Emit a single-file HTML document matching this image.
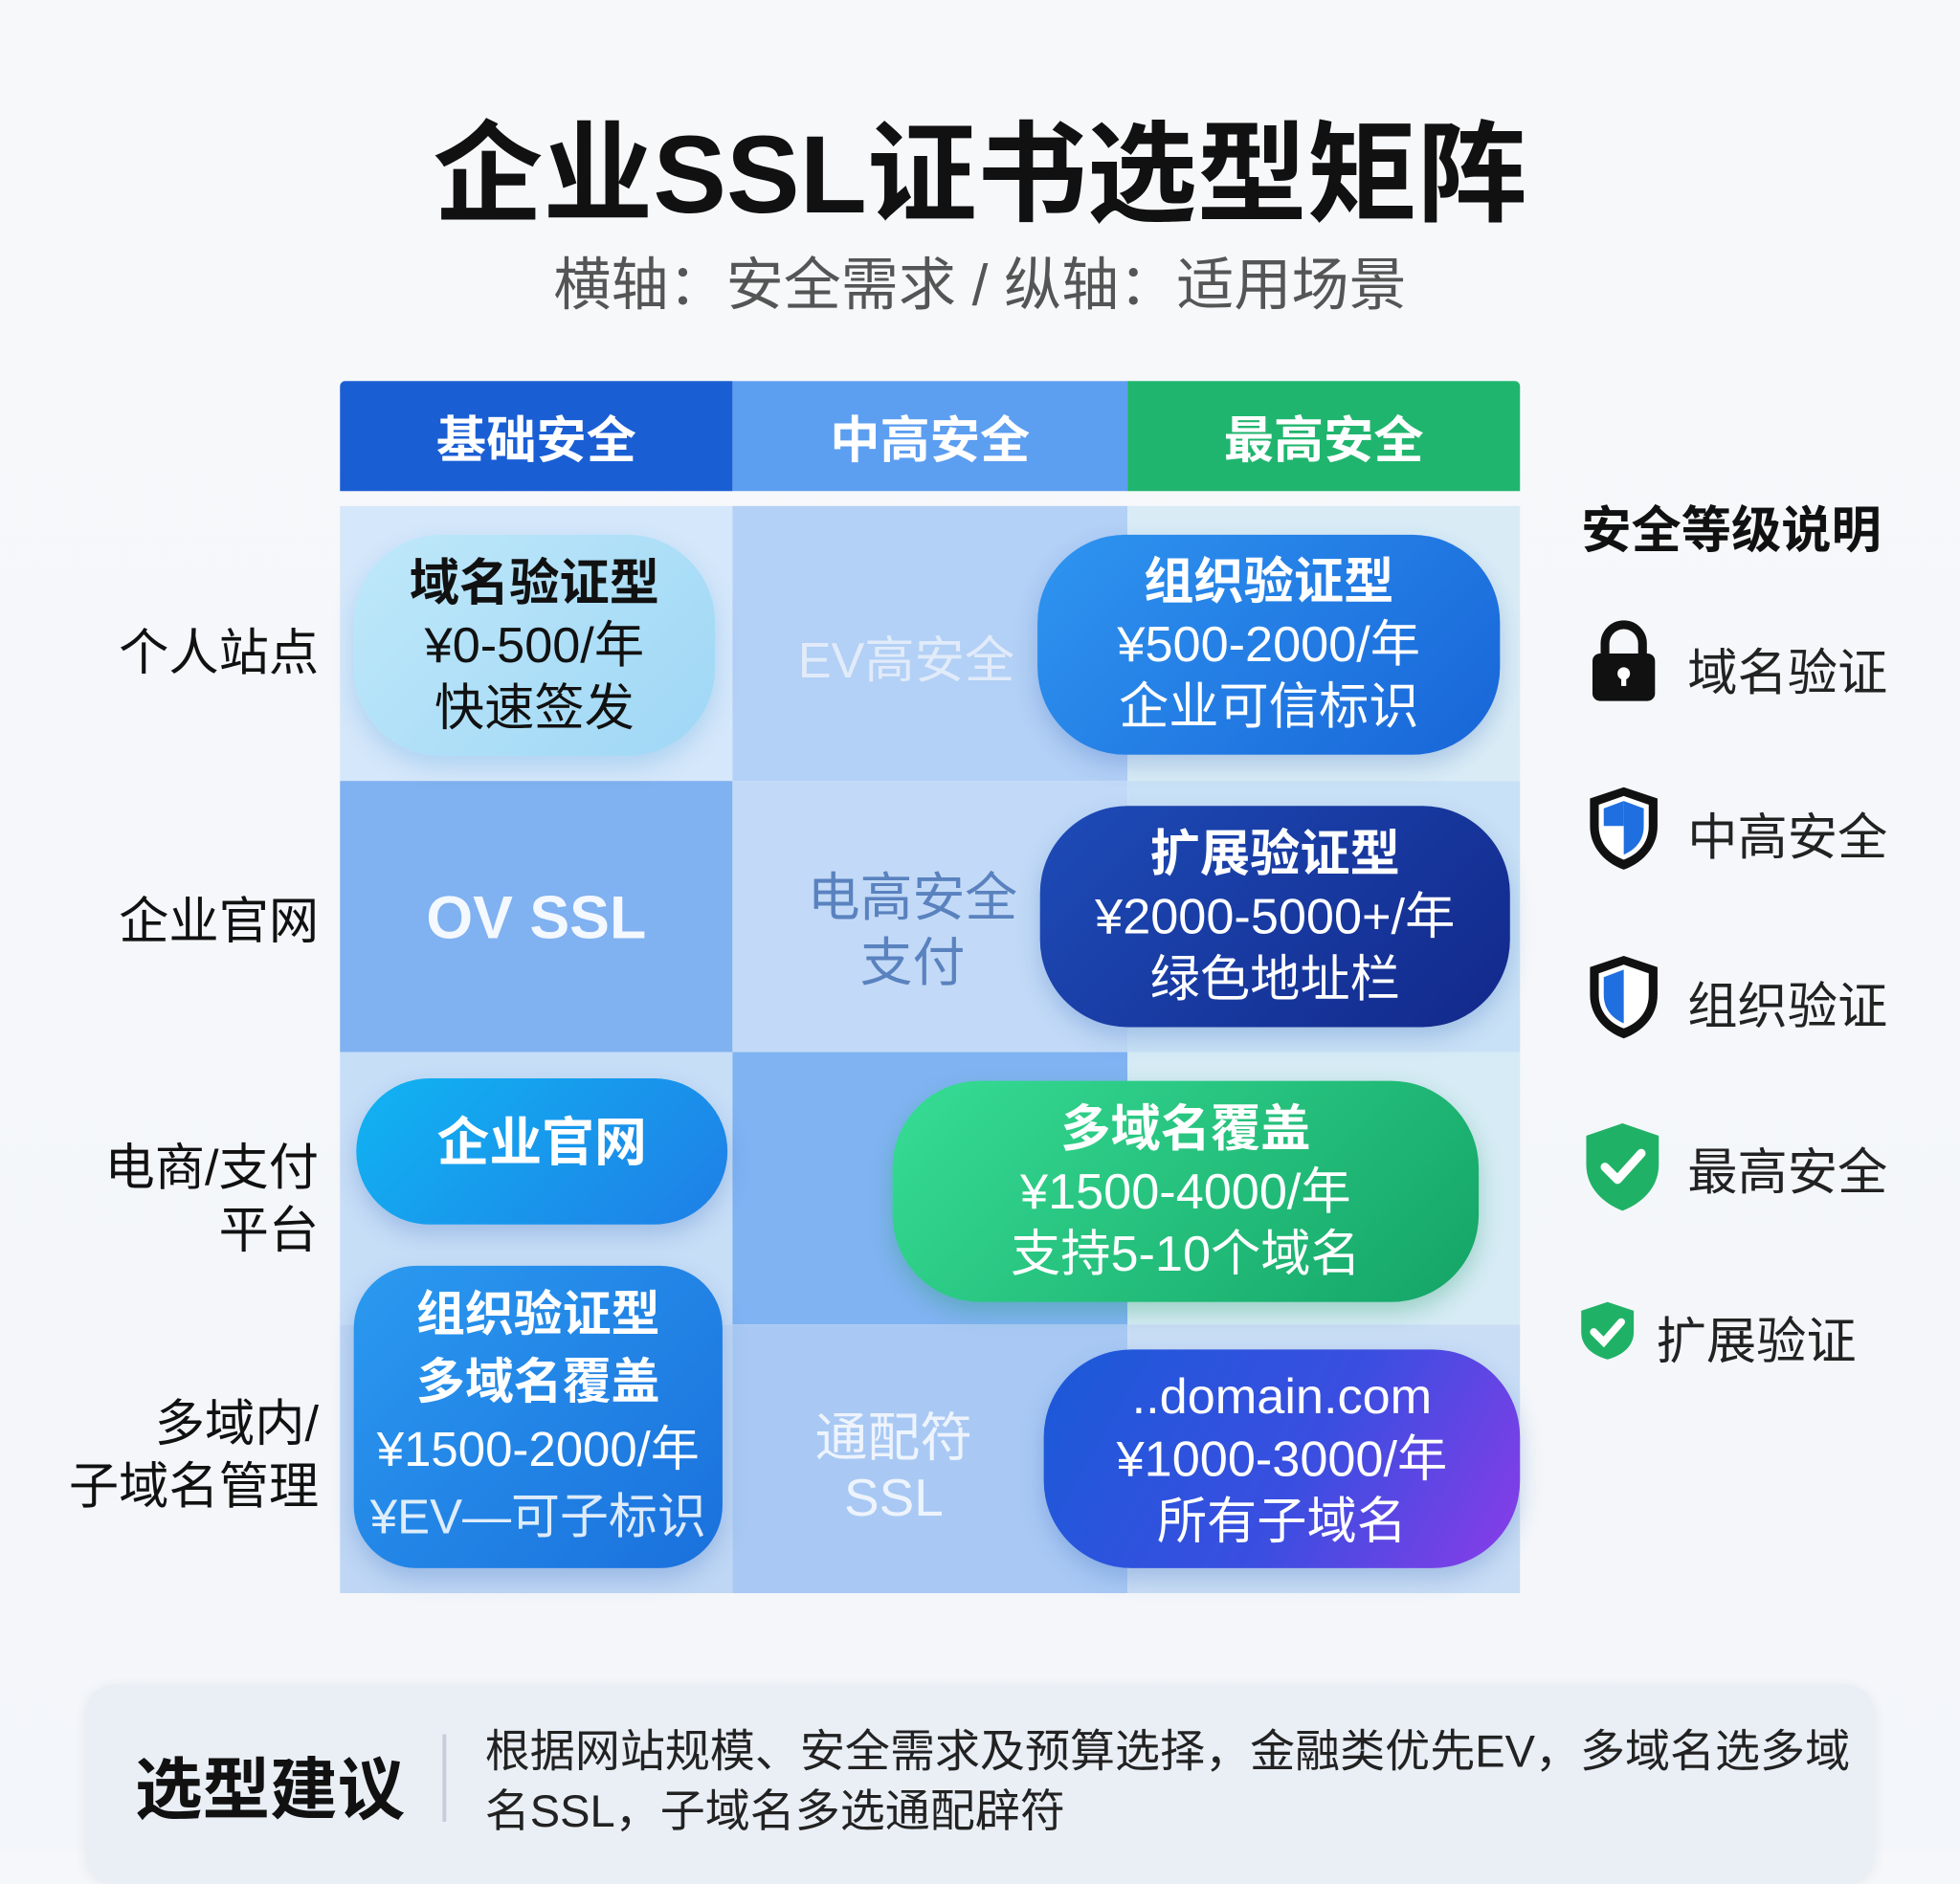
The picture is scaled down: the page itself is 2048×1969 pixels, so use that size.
<!DOCTYPE html>
<html><head><meta charset="utf-8">
<style>
html,body{margin:0;padding:0;width:2048px;height:1934px;overflow:hidden;background:#f5f7fa;}
#s{position:absolute;left:0;top:0;width:1568px;height:1481px;transform:scale(1.30612,1.30589);transform-origin:0 0;
font-family:"Liberation Sans","Noto Sans CJK SC",sans-serif;
background:linear-gradient(180deg,#f7f8fa 0%,#f3f6fa 100%);}
.a{position:absolute;}
.c{position:absolute;display:flex;flex-direction:column;align-items:center;justify-content:center;text-align:center;}
.pill{border-radius:70px;box-shadow:0 8px 18px rgba(40,90,180,.25);color:#fff;}
.b{font-weight:bold;}
.cell{position:absolute;}
</style></head><body><div id="s">
<div class="c b" style="left:0;width:1568px;top:72px;height:120px;font-size:88px;color:#111;">企业SSL证书选型矩阵</div>
<div class="c" style="left:0;width:1568px;top:195px;height:60px;font-size:46px;color:#555;">横轴：安全需求 / 纵轴：适用场景</div>

<div class="c b" style="left:272px;top:305px;width:314px;height:88px;background:#1a5ed4;color:#fff;font-size:40px;border-radius:4px 0 0 0;">基础安全</div>
<div class="c b" style="left:586px;top:305px;width:316px;height:88px;background:#5c9ef0;color:#fff;font-size:40px;">中高安全</div>
<div class="c b" style="left:902px;top:305px;width:314px;height:88px;background:#20b56e;color:#fff;font-size:40px;border-radius:0 4px 0 0;">最高安全</div>

<div class="cell" style="left:272px;top:405px;width:314px;height:220px;background:#d5e7fa"></div>
<div class="cell" style="left:586px;top:405px;width:316px;height:220px;background:#b3d0f6"></div>
<div class="cell" style="left:902px;top:405px;width:314px;height:220px;background:#d9ecf6"></div>
<div class="cell" style="left:272px;top:625px;width:314px;height:217px;background:#80b1f0"></div>
<div class="cell" style="left:586px;top:625px;width:316px;height:217px;background:#c2daf7"></div>
<div class="cell" style="left:902px;top:625px;width:314px;height:217px;background:#c9e1f6"></div>
<div class="cell" style="left:272px;top:842px;width:314px;height:218px;background:#c7def7"></div>
<div class="cell" style="left:586px;top:842px;width:316px;height:218px;background:#80b3f2"></div>
<div class="cell" style="left:902px;top:842px;width:314px;height:218px;background:#d6ebf5"></div>
<div class="cell" style="left:272px;top:1060px;width:314px;height:215px;background:#bfd7f5"></div>
<div class="cell" style="left:586px;top:1060px;width:316px;height:215px;background:#a9c9f4"></div>
<div class="cell" style="left:902px;top:1060px;width:314px;height:215px;background:#c9ddf5"></div>

<div class="a" style="right:1313px;top:490px;font-size:40px;color:#111;text-align:right;">个人站点</div>
<div class="a" style="right:1313px;top:705px;font-size:40px;color:#111;text-align:right;">企业官网</div>
<div class="a" style="right:1313px;top:910px;font-size:40px;color:#111;text-align:right;line-height:50px;">电商/支付<br>平台</div>
<div class="a" style="right:1313px;top:1115px;font-size:40px;color:#111;text-align:right;line-height:50px;">多域内/<br>子域名管理</div>

<div class="c pill" style="left:283px;top:428px;width:289px;height:177px;background:linear-gradient(135deg,#bfe8fa,#9fd7f5);color:#111;font-size:40px;line-height:50px;box-shadow:0 8px 18px rgba(60,150,220,.25);"><span class="b">域名验证型</span><span>¥0-500/年</span><span>快速签发</span></div>
<div class="c" style="left:600px;top:495px;width:250px;height:60px;font-size:40px;color:#e6eefa;opacity:.9">EV高安全</div>
<div class="c pill" style="left:830px;top:428px;width:370px;height:176px;background:linear-gradient(135deg,#2f95f0,#1865d8);font-size:40px;line-height:50px;"><span class="b">组织验证型</span><span>¥500-2000/年</span><span>企业可信标识</span></div>

<div class="c b" style="left:272px;top:700px;width:314px;height:70px;font-size:48px;color:#f4f8ff;">OV SSL</div>
<div class="c" style="left:620px;top:690px;width:220px;height:110px;font-size:42px;line-height:52px;color:#5a82bf;">电高安全<br>支付</div>
<div class="c pill" style="left:832px;top:645px;width:376px;height:177px;background:linear-gradient(135deg,#1e4cb8,#12288a);font-size:40px;line-height:50px;"><span class="b">扩展验证型</span><span>¥2000-5000+/年</span><span>绿色地址栏</span></div>

<div class="c pill" style="left:285px;top:863px;width:297px;height:117px;background:linear-gradient(135deg,#10b4f2,#1f7ee6);font-size:42px;justify-content:flex-start;padding-top:18px;box-sizing:border-box;"><span class="b">企业官网</span></div>
<div class="c pill" style="left:714px;top:865px;width:469px;height:177px;background:linear-gradient(135deg,#37dd94,#14a466);font-size:40px;line-height:50px;box-shadow:0 8px 18px rgba(20,150,90,.3);"><span class="b">多域名覆盖</span><span>¥1500-4000/年</span><span>支持5-10个域名</span></div>

<div class="c pill" style="left:283px;top:1013px;width:295px;height:242px;border-radius:50px;background:linear-gradient(135deg,#2b9af0,#1a70dc);font-size:39px;line-height:54px;"><span class="b">组织验证型</span><span class="b">多域名覆盖</span><span>¥1500-2000/年</span><span style="opacity:.85">¥EV—可子标识</span></div>
<div class="c" style="left:610px;top:1120px;width:210px;height:110px;font-size:42px;line-height:48px;color:#eef4fd;">通配符<br>SSL</div>
<div class="c pill" style="left:835px;top:1080px;width:381px;height:175px;background:linear-gradient(120deg,#1a5ad8 0%,#3a4ee0 55%,#8a3ce8 100%);font-size:40px;line-height:50px;"><span>..domain.com</span><span>¥1000-3000/年</span><span>所有子域名</span></div>

<div class="a b" style="left:1265px;top:392px;font-size:40px;color:#111;">安全等级说明</div>
<svg class="a" style="left:1270px;top:495px" width="58" height="70" viewBox="0 0 58 70"><path d="M14 30 V20 a15 15 0 0 1 30 0 V30" fill="none" stroke="#111" stroke-width="7"/><rect x="4" y="28" width="50" height="38" rx="6" fill="#111"/><circle cx="29" cy="44" r="5" fill="#fff"/><rect x="27" y="44" width="4" height="10" fill="#fff"/></svg>
<div class="a" style="left:1350px;top:506px;font-size:40px;color:#222;">域名验证</div>
<svg class="a" style="left:1268px;top:627px" width="62" height="72" viewBox="0 0 62 72"><path d="M31 3 L58 12 V34 C58 52 45 64 31 69 C17 64 4 52 4 34 V12 Z" fill="#111"/><path d="M31 10 L51 17 V34 C51 48 42 57 31 61 C20 57 11 48 11 34 V17 Z" fill="#fff"/><path d="M31 14 L47 20 V34 C47 46 40 53 31 57 Z" fill="#1f6fe0"/><path d="M31 14 L15 20 V34 H31Z" fill="#1f6fe0"/></svg>
<div class="a" style="left:1350px;top:638px;font-size:40px;color:#222;">中高安全</div>
<svg class="a" style="left:1268px;top:762px" width="62" height="72" viewBox="0 0 62 72"><path d="M31 3 L58 12 V34 C58 52 45 64 31 69 C17 64 4 52 4 34 V12 Z" fill="#111"/><path d="M31 10 L51 17 V34 C51 48 42 57 31 61 C20 57 11 48 11 34 V17 Z" fill="#fff"/><path d="M31 14 L15 20 V34 C15 46 22 53 31 57 Z" fill="#1f6fe0"/></svg>
<div class="a" style="left:1350px;top:773px;font-size:40px;color:#222;">组织验证</div>
<svg class="a" style="left:1266px;top:896px" width="64" height="76" viewBox="0 0 64 76"><path d="M32 3 L61 13 V36 C61 55 47 67 32 73 C17 67 3 55 3 36 V13 Z" fill="#1fb266"/><path d="M18 38 L28 48 L47 27" fill="none" stroke="#fff" stroke-width="7" stroke-linecap="round" stroke-linejoin="round"/></svg>
<div class="a" style="left:1350px;top:906px;font-size:40px;color:#222;">最高安全</div>
<svg class="a" style="left:1262px;top:1040px" width="48" height="50" viewBox="0 0 48 50"><path d="M24 2 L45 9 V26 C45 38 35 45 24 48 C13 45 3 38 3 26 V9 Z" fill="#1fb266"/><path d="M13 26 L21 34 L35 18" fill="none" stroke="#fff" stroke-width="6" stroke-linecap="round"/></svg>
<div class="a" style="left:1325px;top:1041px;font-size:40px;color:#222;">扩展验证</div>

<div class="a" style="left:68px;top:1348px;width:1432px;height:160px;background:#eaeff6;border-radius:24px;box-shadow:0 2px 10px rgba(0,0,0,.06)"></div>
<div class="a b" style="left:108px;top:1388px;font-size:54px;color:#111;">选型建议</div>
<div class="a" style="left:354px;top:1388px;width:3px;height:70px;background:#c8ced8"></div>
<div class="a" style="left:388px;top:1378px;font-size:36px;line-height:48px;color:#222;white-space:nowrap;">根据网站规模、安全需求及预算选择，金融类优先EV，多域名选多域<br>名SSL，子域名多选通配辟符</div>
</div></body></html>
